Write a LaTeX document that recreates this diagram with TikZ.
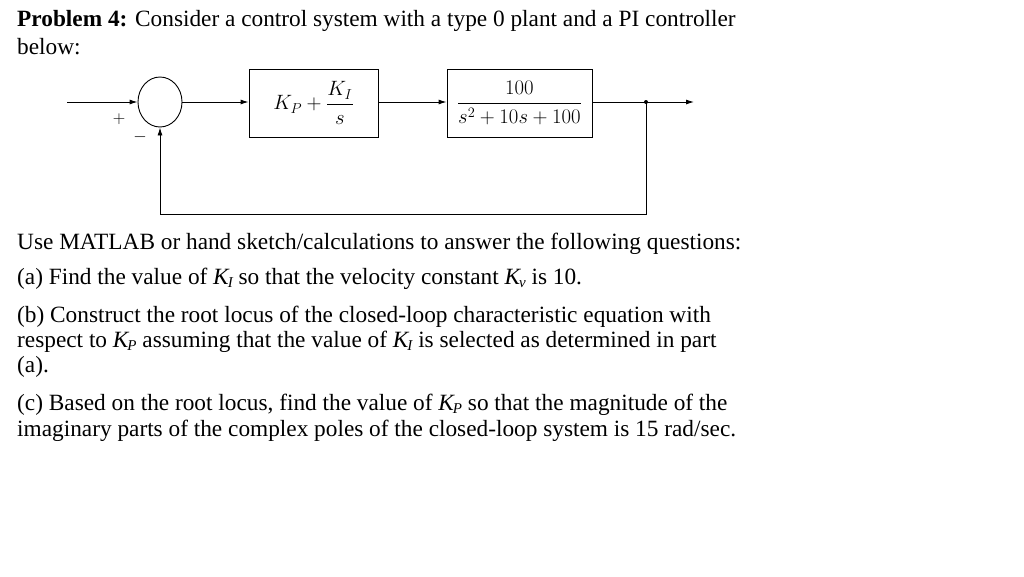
\documentclass[tikz,border=0pt]{standalone}
\usepackage{amsmath}
\usepackage{fontspec}
\setmainfont{Liberation Serif}
\usetikzlibrary{shapes.geometric,arrows.meta}
\begin{document}
\begin{tikzpicture}[x=1pt,y=-1pt,
  txt/.style={anchor=west,inner sep=0pt,font=\fontsize{23.3}{28}\selectfont},
  blk/.style={draw,line width=0.9pt,minimum height=68pt,inner sep=0pt},
  arr/.style={-{Latex[length=8pt,width=5pt]},line width=0.9pt}]
\useasboundingbox (0,0) rectangle (1024,576);
\newcommand{\sub}[1]{\kern-1pt\raisebox{-2.5pt}{\fontsize{15}{15}\selectfont #1}}
\node[txt] (t1) at (17,21) {\textbf{Problem 4:} Consider a control system with a type 0 plant and a PI controller};
\node[txt] (t2) at (17,47) {below:};
\node[draw,line width=0.9pt,ellipse,minimum width=44pt,minimum height=50pt,inner sep=0pt] (sum) at (160,102) {};
\node[blk,minimum width=129pt] (c) at (313.5,103) {\fontsize{22}{26}\selectfont$K_P+\dfrac{K_I}{s}$};
\node[blk,minimum width=145pt] (g) at (519.5,103) {\fontsize{19.5}{22}\selectfont$\dfrac{100}{s^2+10s+100}$};
\coordinate (in) at (67,102);
\coordinate (j) at (646,102);
\coordinate (out) at (694,102);
\coordinate (b1) at (646,214);
\coordinate (b2) at (160,214);
\draw[arr] (in) -- (sum.west);
\draw[arr] (sum.east) -- (c.west |- sum.east);
\draw[arr] (c.east |- sum.east) -- (g.west |- sum.east);
\draw[arr] (g.east |- sum.east) -- (out);
\fill (j) circle (2pt);
\draw[arr] (j) -- (b1) -- (b2) -- (sum.south);
\node[font=\fontsize{18}{20}\selectfont] (plus) at (119,119) {$+$};
\node[font=\fontsize{18}{20}\selectfont] (minus) at (140,137) {$-$};
\node[txt] (q0) at (17,244) {Use MATLAB or hand sketch/calculations to answer the following questions:};
\node[txt] (qa) at (17,279) {(a) Find the value of \textit{K\sub{I}} so that the velocity constant \textit{K\sub{v}} is 10.};
\node[txt] (qb1) at (17,317) {(b) Construct the root locus of the closed-loop characteristic equation with};
\node[txt] (qb2) at (17,342) {respect to \textit{K\sub{P}} assuming that the value of \textit{K\sub{I}} is selected as determined in part};
\node[txt] (qb3) at (17,367) {(a).};
\node[txt] (qc1) at (17,405) {(c) Based on the root locus, find the value of \textit{K\sub{P}} so that the magnitude of the};
\node[txt] (qc2) at (17,431) {imaginary parts of the complex poles of the closed-loop system is 15 rad/sec.};
\end{tikzpicture}
\end{document}
